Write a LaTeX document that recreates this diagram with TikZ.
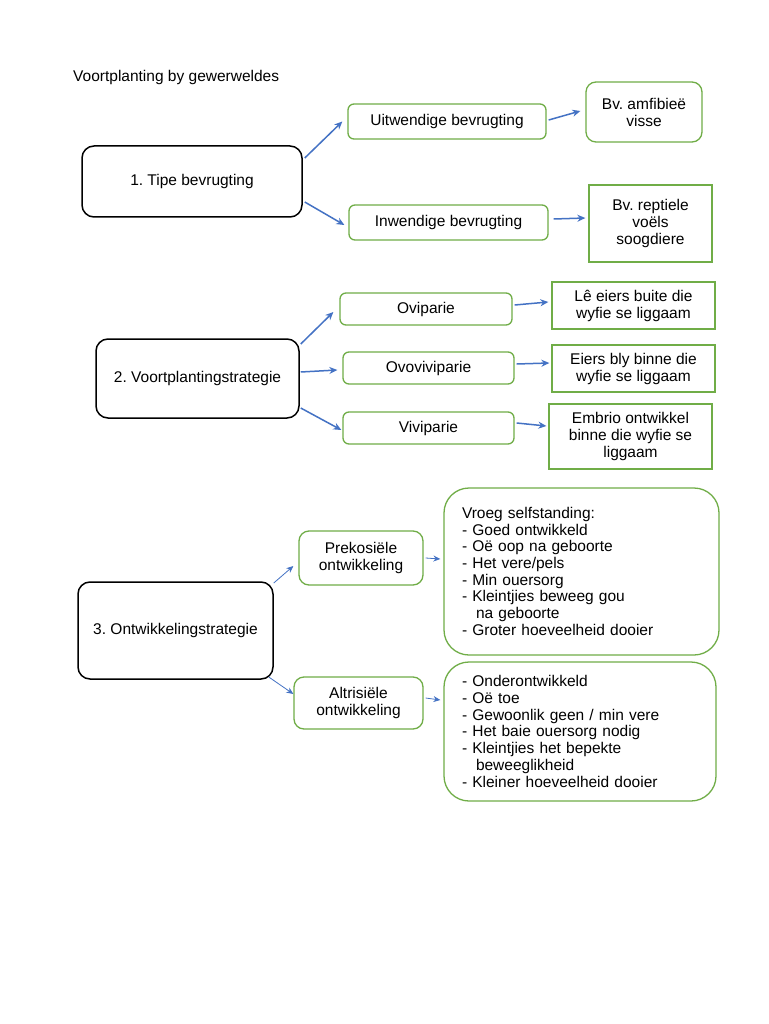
\documentclass[tikz,border=0pt]{standalone}
\usepackage{fontspec}
\setmainfont{Liberation Sans}
\usepackage{tikz}
\usetikzlibrary{shapes.geometric, arrows, arrows.meta}
\frenchspacing
\definecolor{boxgreen}{RGB}{112,173,71}
\definecolor{arrowblue}{RGB}{68,114,196}
\tikzset{
  hoofnode/.style = {shape=rectangle, rounded corners=12pt,
                     draw=black, line width=1.5pt, anchor=center,
                     align=center, inner sep=0pt},
  subnode/.style = {shape=rectangle, rounded corners=6pt,
                     draw=boxgreen, line width=1.3pt, anchor=center,
                     align=center, inner sep=0pt},
  voorbeeld/.style = {shape=rectangle, draw=boxgreen, line width=1.3pt,
                     anchor=center, align=center, inner sep=0pt},
  lysnode/.style = {shape=rectangle, rounded corners=25pt,
                     draw=boxgreen, line width=1.3pt, anchor=center,
                     align=left, inner xsep=18pt, inner ysep=0pt},
  arrow/.style = {line width=1.5pt,->,>={Stealth[length=8pt,width=7pt]},draw=arrowblue},
  thinarrow/.style = {line width=0.8pt,->,>={Stealth[length=7pt,width=6pt]},draw=arrowblue}
}

\begin{document}
\begin{tikzpicture}[x=1pt,y=-1pt,font=\fontsize{15.5}{17}\selectfont]
            \fill[white] (0,0) rectangle (768,1024);
            \useasboundingbox (0,0) rectangle (768,1024);

            \node (titel) [anchor=west, inner sep=0pt] at (73,77) {Voortplanting by gewerweldes};

            % 1. tipe bevrugting
            \node (tipe) [hoofnode, minimum width=220pt, minimum height=71pt] at (192,181.5) {1. Tipe bevrugting};
            \node (uit) [subnode, minimum width=198pt, minimum height=35pt] at (447,121.5) {Uitwendige bevrugting};
            \node (in) [subnode, minimum width=199pt, minimum height=35pt] at (448.5,222.5) {Inwendige bevrugting};
            \node (amf) [voorbeeld, rounded corners=10pt, minimum width=116pt, minimum height=60pt] at (644,112) {Bv. amfibieë\\visse};
            \node (rep) [voorbeeld, minimum width=123pt, minimum height=77pt] at (650.5,223.5) {Bv. reptiele\\voëls\\soogdiere};

            \draw [arrow] ([xshift=2pt,yshift=23.5pt]tipe.east) -- ([xshift=-5pt]uit.west);
            \draw [arrow] ([xshift=2pt,yshift=-20.5pt]tipe.east) -- ([xshift=-4pt,yshift=-2.5pt]in.west);
            \draw [arrow] ([xshift=2pt,yshift=1.5pt]uit.east) -- ([xshift=-5pt,yshift=1pt]amf.west);
            \draw [arrow] ([xshift=5pt,yshift=3.5pt]in.east) -- ([xshift=-3pt,yshift=5.5pt]rep.west);

            % 2. voortplantingstrategie
            \node (strat) [hoofnode, minimum width=203pt, minimum height=79pt] at (197.5,378.5) {2. Voortplantingstrategie};
            \node (ovi) [subnode, minimum width=172pt, minimum height=32pt] at (426,309) {Oviparie};
            \node (ovovi) [subnode, minimum width=171pt, minimum height=32pt] at (428.5,368) {Ovoviviparie};
            \node (vivi) [subnode, minimum width=171pt, minimum height=32pt] at (428.5,428) {Viviparie};
            \node (le) [voorbeeld, minimum width=163pt, minimum height=47pt] at (633.5,305.5) {Lê eiers buite die\\wyfie se liggaam};
            \node (eiers) [voorbeeld, minimum width=163pt, minimum height=47pt] at (633.5,368.5) {Eiers bly binne die\\wyfie se liggaam};
            \node (embrio) [voorbeeld, minimum width=163pt, minimum height=65pt] at (630.5,436.5) {Embrio ontwikkel\\binne die wyfie se\\liggaam};

            \draw [arrow] ([xshift=1pt,yshift=34.5pt]strat.east) -- ([xshift=-6pt,yshift=-3pt]ovi.west);
            \draw [arrow] ([xshift=1pt,yshift=6.5pt]strat.east) -- ([xshift=-5pt,yshift=-2pt]ovovi.west);
            \draw [arrow] ([xshift=1pt,yshift=-29.5pt]strat.east) -- ([xshift=-1pt,yshift=-2pt]vivi.west);
            \draw [arrow] ([xshift=2pt,yshift=4pt]ovi.east) -- ([xshift=-3pt,yshift=3.5pt]le.west);
            \draw [arrow] ([xshift=2pt,yshift=4pt]ovovi.east) -- ([xshift=-2pt,yshift=5.5pt]eiers.west);
            \draw [arrow] ([xshift=2pt,yshift=5pt]vivi.east) -- ([xshift=-2pt,yshift=10.5pt]embrio.west);

            % 3. ontwikkelingstrategie
            \node (ontw) [hoofnode, minimum width=195pt, minimum height=97pt] at (175.5,630.5) {3. Ontwikkelingstrategie};
            \node (prek) [subnode, rounded corners=10pt, minimum width=124pt, minimum height=54pt] at (361,558) {Prekosiële\\ontwikkeling};
            \node (altr) [subnode, rounded corners=10pt, minimum width=129pt, minimum height=52pt] at (358.5,703) {Altrisiële\\ontwikkeling};
            \node (vroeg) [lysnode, text width=239pt, minimum height=167pt] at (581.5,571.5) {\baselineskip=16.7pt Vroeg selfstanding:\\- Goed ontwikkeld\\- Oë oop na geboorte\\- Het vere/pels\\- Min ouersorg\\- Kleintjies beweeg gou\\\hspace*{14pt}na geboorte\\- Groter hoeveelheid dooier};
            \node (onder) [lysnode, text width=236pt, minimum height=139pt] at (580,731.5) {\baselineskip=16.8pt - Onderontwikkeld\\- Oë toe\\- Gewoonlik geen / min vere\\- Het baie ouersorg nodig\\- Kleintjies het bepekte\\\hspace*{14pt}beweeglikheid\\- Kleiner hoeveelheid dooier};

            \draw [thinarrow] ([yshift=47.5pt]ontw.east) -- ([xshift=-5pt,yshift=-8pt]prek.west);
            \draw [thinarrow] ([xshift=-5pt,yshift=-46.5pt]ontw.east) -- ([yshift=9pt]altr.west);
            \draw [thinarrow] ([xshift=2pt]prek.east) -- ([xshift=-3pt,yshift=12.5pt]vroeg.west);
            \draw [thinarrow] ([xshift=2pt,yshift=5pt]altr.east) -- ([xshift=-3pt,yshift=31.5pt]onder.west);
        \end{tikzpicture}
\end{document}
